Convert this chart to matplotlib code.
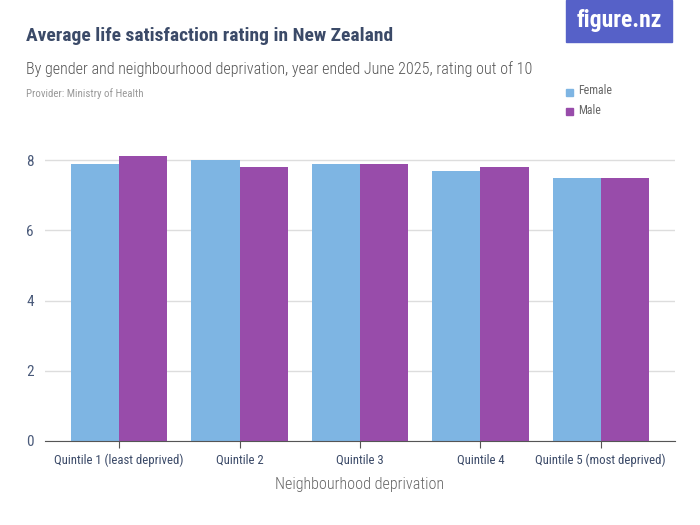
import numpy as np
import matplotlib
matplotlib.use("Agg")
import matplotlib.pyplot as plt
from matplotlib.patches import Rectangle
from matplotlib import font_manager

# Data
categories = ["Quintile 1 (least deprived)", "Quintile 2", "Quintile 3",
              "Quintile 4", "Quintile 5 (most deprived)"]
female = [7.9, 8.0, 7.9, 7.7, 7.5]
male = [8.1, 7.8, 7.9, 7.8, 7.5]
yticks = [0, 2, 4, 6, 8]

# pick a condensed face that is installed
names = {f.name for f in font_manager.fontManager.ttflist}
FONT = "DejaVu Sans"
for cand in ["Roboto Condensed", "Archivo Narrow", "PT Sans Narrow",
             "Fira Sans Condensed", "Barlow Condensed", "Liberation Sans Narrow"]:
    if cand in names:
        FONT = cand
        break
plt.rcParams["font.family"] = [FONT, "DejaVu Sans"]

C_FEMALE = "#7eb5e3"
C_MALE = "#984caa"
TXT = "#3b4a68"
GREY = "#666666"

fig = plt.figure(figsize=(7, 5.25), dpi=100)
W, H = 700, 525
ax = fig.add_axes([45 / W, 1 - 441 / H, 630 / W, (441 - 130) / H])

x = np.arange(len(categories))
bw = 0.4
ax.bar(x - bw / 2, female, bw, color=C_FEMALE)
ax.bar(x + bw / 2, male, bw, color=C_MALE)

ymax = 8 * (441 - 130) / (441 - 160)
ax.set_ylim(0, ymax)
ax.set_xlim(-0.5 - 14 / 120, 4.5 + 14 / 120)
ax.set_yticks(yticks)
ax.set_yticklabels([str(v) for v in yticks], fontsize=11, color="#4a5a7a")
ax.set_xticks(x)
ax.set_xticklabels(categories, fontsize=9.2, color=TXT)
ax.tick_params(axis="y", length=0, pad=8)
ax.tick_params(axis="x", length=5, color="#555555", pad=4)
ax.grid(axis="y", color="#dddddd", linewidth=1)
ax.set_axisbelow(True)
for s in ["top", "right", "left"]:
    ax.spines[s].set_visible(False)
ax.spines["bottom"].set_color("#555555")
ax.set_xlabel("Neighbourhood deprivation", fontsize=11.6, color=GREY,
              fontweight="light", labelpad=7)

# Titles
fig.text(26 / W, 1 - 36 / H, "Average life satisfaction rating in New Zealand",
         fontsize=14, fontweight="bold", color=TXT, va="center")
fig.text(26 / W, 1 - 69 / H,
         "By gender and neighbourhood deprivation, year ended June 2025, rating out of 10",
         fontsize=11.6, fontweight="light", color="#555555", va="center")
fig.text(26 / W, 1 - 94 / H, "Provider: Ministry of Health",
         fontsize=7.8, color="#999999", va="center")

# Legend
for i, (lab, col) in enumerate([("Female", C_FEMALE), ("Male", C_MALE)]):
    yy = 1 - (92 + i * 19) / H
    fig.patches.append(Rectangle((566 / W, yy - 3.5 / H), 7 / W, 7 / H,
                                 transform=fig.transFigure, color=col))
    fig.text(578 / W, yy + 1 / H, lab, fontsize=8.5, color=GREY, va="center")

# Logo box
fig.patches.append(Rectangle((566 / W, 1 - 42 / H), 106 / W, 42 / H,
                             transform=fig.transFigure, color="#5661c8"))
fig.text(619 / W, 1 - 20 / H, "figure.nz", fontsize=17, fontweight="bold",
         color="white", ha="center", va="center")

fig.savefig("out.png", dpi=100)
